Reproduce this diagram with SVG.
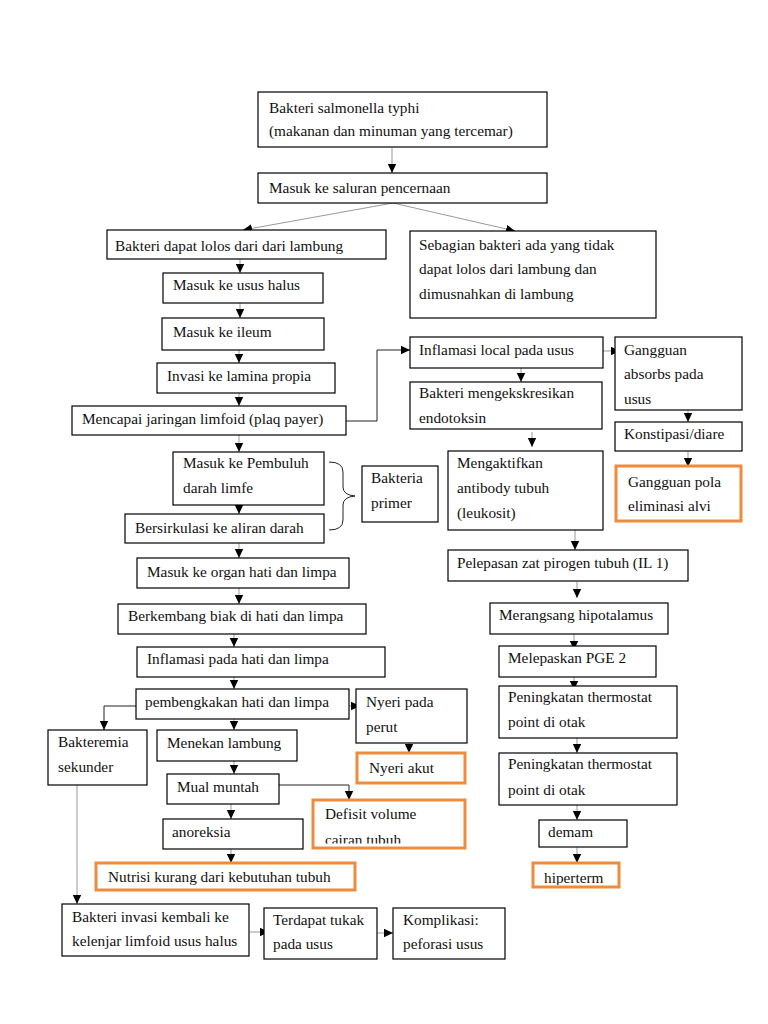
<svg xmlns="http://www.w3.org/2000/svg" width="768" height="1024" viewBox="0 0 768 1024">
<style>
.b{fill:#fff;stroke:#000;stroke-width:1.2}
.o{fill:#fff;stroke:#EF8B3C;stroke-width:3}
.t{font-family:"Liberation Serif","Times New Roman",serif;font-size:15.3px;fill:#111}
.c{fill:none;stroke:#999;stroke-width:1}
.d{fill:none;stroke:#222;stroke-width:1}
</style>
<defs>
<marker id="ah" markerUnits="userSpaceOnUse" markerWidth="10" markerHeight="10" viewBox="0 0 10 10" refX="9" refY="5" orient="auto">
<path d="M0,0.8 L9,5 L0,9.2 Z" fill="#000"/>
</marker>
<clipPath id="clipDef"><rect x="313" y="800" width="152" height="43.5"/></clipPath>
<clipPath id="clipHip"><rect x="533" y="863" width="86" height="22"/></clipPath>
</defs>
<rect width="768" height="1024" fill="#fff"/>

<g id="connectors">
<path class="c" d="M392,148 V173" marker-end="url(#ah)"/>
<path class="c" d="M393,203 L243,230" marker-end="url(#ah)"/>
<path class="c" d="M393,203 L515,231" marker-end="url(#ah)"/>
<path class="c" d="M240,259 V273" marker-end="url(#ah)"/>
<path class="c" d="M240,303 V318" marker-end="url(#ah)"/>
<path class="c" d="M239,350 V363" marker-end="url(#ah)"/>
<path class="c" d="M239,393 V406" marker-end="url(#ah)"/>
<path class="d" d="M340,421 H377 V350 H410" marker-end="url(#ah)"/>
<path class="c" d="M239,435 V452" marker-end="url(#ah)"/>
<path class="c" d="M239,505 V514" marker-end="url(#ah)"/>
<path class="c" d="M239,543 V558" marker-end="url(#ah)"/>
<path class="c" d="M239,588 V604" marker-end="url(#ah)"/>
<path class="c" d="M234,634 V647" marker-end="url(#ah)"/>
<path class="c" d="M234,677 V689" marker-end="url(#ah)"/>
<path class="d" d="M137,706 H104 V730" marker-end="url(#ah)"/>
<path class="c" d="M234,719 V730" marker-end="url(#ah)"/>
<path class="c" d="M340,706 H360" marker-end="url(#ah)"/>
<path class="c" d="M409,735 V753" marker-end="url(#ah)"/>
<path class="c" d="M234,761 V774" marker-end="url(#ah)"/>
<path class="d" d="M268,785 H349 V800" marker-end="url(#ah)"/>
<path class="c" d="M231,804 V819" marker-end="url(#ah)"/>
<path class="c" d="M231,849 V863" marker-end="url(#ah)"/>
<path class="c" d="M77,780 V904" marker-end="url(#ah)"/>
<path class="c" d="M250,932 H269" marker-end="url(#ah)"/>
<path class="c" d="M372,933 H393" marker-end="url(#ah)"/>
<path class="c" d="M521,368 V382" marker-end="url(#ah)"/>
<path class="c" d="M532,432 V447" marker-end="url(#ah)"/>
<path class="c" d="M588,351 H620" marker-end="url(#ah)"/>
<path class="c" d="M688,397 V422" marker-end="url(#ah)"/>
<path class="c" d="M688,440 V467" marker-end="url(#ah)"/>
<path class="c" d="M575,530 V550" marker-end="url(#ah)"/>
<path class="c" d="M577,582 V598" marker-end="url(#ah)"/>
<path class="c" d="M574,634 V650" marker-end="url(#ah)"/>
<path class="c" d="M574,677 V690" marker-end="url(#ah)"/>
<path class="c" d="M577,738 V753" marker-end="url(#ah)"/>
<path class="c" d="M577,805 V820" marker-end="url(#ah)"/>
<path class="c" d="M577,847 V863" marker-end="url(#ah)"/>
<path class="d" d="M329,462 Q343,462 343,472 L343,487 Q343,495 355,496 Q343,497 343,505 L343,520 Q343,530 329,530"/>
</g>

<g id="n-bakteri"><rect class="b" x="258" y="92" width="289" height="55"/><text class="t" x="269" y="113">Bakteri salmonella typhi</text><text class="t" x="269" y="136">(makanan dan minuman yang tercemar)</text></g>
<g id="n-saluran"><rect class="b" x="258" y="173" width="289" height="30"/><text class="t" x="269" y="193">Masuk ke saluran pencernaan</text></g>
<g id="n-lolos"><rect class="b" x="107" y="230" width="279" height="29"/><text class="t" x="115" y="251">Bakteri dapat lolos dari dari lambung</text></g>
<g id="n-tidaklolos"><rect class="b" x="410" y="231" width="246" height="87"/><text class="t" x="419" y="250">Sebagian bakteri ada yang tidak</text><text class="t" x="419" y="274">dapat lolos dari lambung dan</text><text class="t" x="419" y="299">dimusnahkan di lambung</text></g>
<g id="n-usus"><rect class="b" x="163" y="273" width="160" height="30"/><text class="t" x="173" y="290">Masuk ke usus halus</text></g>
<g id="n-ileum"><rect class="b" x="162" y="318" width="162" height="32"/><text class="t" x="173" y="337">Masuk ke ileum</text></g>
<g id="n-lamina"><rect class="b" x="157" y="363" width="178" height="30"/><text class="t" x="167" y="381">Invasi ke lamina propia</text></g>
<g id="n-limfoid"><rect class="b" x="72" y="406" width="274" height="29"/><text class="t" x="82" y="424">Mencapai jaringan limfoid (plaq payer)</text></g>
<g id="n-pembuluh"><rect class="b" x="173" y="452" width="151" height="53"/><text class="t" x="183" y="468">Masuk ke Pembuluh</text><text class="t" x="183" y="493">darah limfe</text></g>
<g id="n-sirkulasi"><rect class="b" x="125" y="514" width="199" height="29"/><text class="t" x="135" y="533">Bersirkulasi ke aliran darah</text></g>
<g id="n-primer"><rect class="b" x="362" y="466" width="76" height="56"/><text class="t" x="371" y="483">Bakteria</text><text class="t" x="371" y="508">primer</text></g>
<g id="n-organ"><rect class="b" x="137" y="558" width="212" height="30"/><text class="t" x="147" y="577">Masuk ke organ hati dan limpa</text></g>
<g id="n-berkembang"><rect class="b" x="118" y="604" width="248" height="30"/><text class="t" x="128" y="621">Berkembang biak di hati dan limpa</text></g>
<g id="n-inflamasihati"><rect class="b" x="137" y="647" width="248" height="30"/><text class="t" x="147" y="664">Inflamasi pada hati dan limpa</text></g>
<g id="n-pembengkakan"><rect class="b" x="136" y="689" width="213" height="30"/><text class="t" x="145" y="707">pembengkakan hati dan limpa</text></g>
<g id="n-bakteremia"><rect class="b" x="48" y="730" width="99" height="55"/><text class="t" x="58" y="747">Bakteremia</text><text class="t" x="58" y="772">sekunder</text></g>
<g id="n-menekan"><rect class="b" x="157" y="730" width="140" height="31"/><text class="t" x="167" y="748">Menekan lambung</text></g>
<g id="n-mual"><rect class="b" x="167" y="774" width="112" height="30"/><text class="t" x="177" y="792">Mual muntah</text></g>
<g id="n-anoreksia"><rect class="b" x="163" y="819" width="140" height="30"/><text class="t" x="172" y="837">anoreksia</text></g>
<g id="n-nutrisi"><rect class="o" x="96" y="863" width="259" height="27"/><text class="t" x="108" y="882">Nutrisi kurang dari kebutuhan tubuh</text></g>
<g id="n-nyeriperut"><rect class="b" x="356" y="689" width="111" height="54"/><text class="t" x="366" y="707">Nyeri pada</text><text class="t" x="366" y="732">perut</text></g>
<g id="n-nyeriakut"><rect class="o" x="357" y="753" width="108" height="30"/><text class="t" x="369" y="773">Nyeri akut</text></g>
<g id="n-defisit"><rect class="o" x="313" y="800" width="152" height="48"/><g clip-path="url(#clipDef)"><text class="t" x="325" y="819">Defisit volume</text><text class="t" x="325" y="845">cairan tubuh</text></g></g>
<g id="n-inflamasiusus"><rect class="b" x="410" y="337" width="193" height="31"/><text class="t" x="419" y="355">Inflamasi local pada usus</text></g>
<g id="n-endotoksin"><rect class="b" x="410" y="382" width="192" height="47"/><text class="t" x="419" y="398">Bakteri mengekskresikan</text><text class="t" x="419" y="423">endotoksin</text></g>
<g id="n-absorbs"><rect class="b" x="615" y="337" width="127" height="73"/><text class="t" x="624" y="355">Gangguan</text><text class="t" x="624" y="379">absorbs pada</text><text class="t" x="624" y="404">usus</text></g>
<g id="n-konstipasi"><rect class="b" x="615" y="422" width="127" height="29"/><text class="t" x="624" y="439">Konstipasi/diare</text></g>
<g id="n-eliminasi"><rect class="o" x="616" y="466" width="125" height="55"/><text class="t" x="628" y="487">Gangguan pola</text><text class="t" x="628" y="511">eliminasi alvi</text></g>
<g id="n-antibody"><rect class="b" x="448" y="451" width="155" height="79"/><text class="t" x="457" y="468">Mengaktifkan</text><text class="t" x="457" y="493">antibody tubuh</text><text class="t" x="457" y="518">(leukosit)</text></g>
<g id="n-pirogen"><rect class="b" x="448" y="550" width="240" height="31"/><text class="t" x="457" y="568">Pelepasan zat pirogen tubuh (IL 1)</text></g>
<g id="n-hipotalamus"><rect class="b" x="490" y="603" width="178" height="31"/><text class="t" x="499" y="620">Merangsang hipotalamus</text></g>
<g id="n-pge"><rect class="b" x="499" y="646" width="157" height="31"/><text class="t" x="508" y="663">Melepaskan PGE 2</text></g>
<g id="n-thermo1"><rect class="b" x="499" y="686" width="178" height="52"/><text class="t" x="508" y="702">Peningkatan thermostat</text><text class="t" x="508" y="727">point di otak</text></g>
<g id="n-thermo2"><rect class="b" x="499" y="753" width="178" height="52"/><text class="t" x="508" y="769">Peningkatan thermostat</text><text class="t" x="508" y="795">point di otak</text></g>
<g id="n-demam"><rect class="b" x="539" y="820" width="88" height="27"/><text class="t" x="548" y="837">demam</text></g>
<g id="n-hiperterm"><rect class="o" x="533" y="863" width="86" height="24"/><g clip-path="url(#clipHip)"><text class="t" x="544" y="883">hiperterm</text></g></g>
<g id="n-invasikembali"><rect class="b" x="62" y="904" width="187" height="52"/><text class="t" x="72" y="922">Bakteri invasi kembali ke</text><text class="t" x="72" y="946">kelenjar limfoid usus halus</text></g>
<g id="n-tukak"><rect class="b" x="264" y="908" width="113" height="51"/><text class="t" x="273" y="925">Terdapat tukak</text><text class="t" x="273" y="949">pada usus</text></g>
<g id="n-komplikasi"><rect class="b" x="393" y="908" width="112" height="51"/><text class="t" x="403" y="925">Komplikasi:</text><text class="t" x="403" y="949">peforasi usus</text></g>
</svg>
